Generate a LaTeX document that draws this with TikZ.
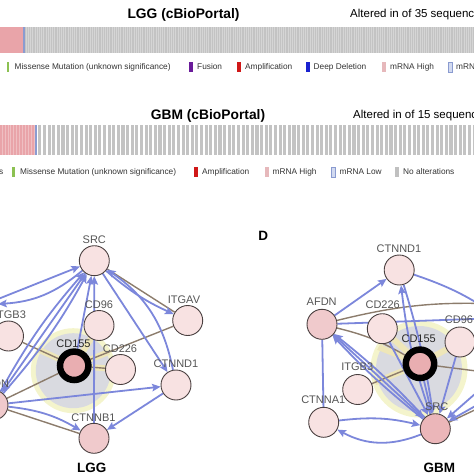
\documentclass[tikz,border=0pt]{standalone}
\usepackage{fontspec}
\setmainfont{Liberation Sans}
\usetikzlibrary{arrows.meta}
\pgfdeclarelayer{halo}
\pgfdeclarelayer{edges}
\pgfsetlayers{halo,edges,main}
\definecolor{barpink}{HTML}{E9A4A9}
\definecolor{barblue}{HTML}{8A9BD0}
\definecolor{bargray}{HTML}{C3C3C3}
\definecolor{cgreen}{HTML}{8CC152}
\definecolor{cpurple}{HTML}{6A1B9A}
\definecolor{cred}{HTML}{D01818}
\definecolor{cblue}{HTML}{1A22D0}
\definecolor{cpink}{HTML}{E6B8BB}
\definecolor{clow}{HTML}{D2DAF0}
\definecolor{cgrayleg}{HTML}{C0C0C0}
\definecolor{legtext}{HTML}{333333}
\definecolor{labgray}{HTML}{555555}
\definecolor{ndline}{HTML}{4A4040}
\definecolor{ndlight}{HTML}{F8E2E2}
\definecolor{ndmid}{HTML}{F0CACC}
\definecolor{nddark}{HTML}{EBB6B9}
\definecolor{cdfill}{HTML}{E9AEB1}
\definecolor{edgeblue}{HTML}{7C87DB}
\definecolor{edgebrown}{HTML}{8C7C6C}
\definecolor{haloc}{HTML}{D9DAE0}
\definecolor{glowc}{HTML}{F4F4CC}
\definecolor{glowline}{HTML}{EEE6B8}
\begin{document}
\begin{tikzpicture}[x=1pt,y=-1pt,
  title/.style={font=\bfseries\fontsize{13.8}{16}\selectfont, inner sep=0},
  altered/.style={font=\fontsize{11.5}{14}\selectfont, anchor=west, inner sep=0},
  leg/.style={font=\fontsize{8.3}{10}\selectfont, text=legtext, anchor=west, inner sep=0},
  mk/.style={rectangle, inner sep=0, minimum width=4pt, minimum height=10pt},
  nd/.style={circle, draw=ndline, line width=0.9pt, fill=ndlight, minimum size=30pt, inner sep=0},
  ndm/.style={nd, fill=ndmid},
  ndd/.style={nd, fill=nddark},
  hub/.style={circle, draw=black, line width=6.5pt, fill=cdfill, minimum size=28.4pt, inner sep=0},
  ghost/.style={circle, minimum size=30pt, inner sep=0},
  lbl/.style={font=\fontsize{11}{13}\selectfont, text=labgray, inner sep=0},
  hublbl/.style={font=\fontsize{11}{13}\selectfont, text=black!85, inner sep=0},
  panel/.style={font=\bfseries\fontsize{13.5}{16}\selectfont, inner sep=0},
  bl/.style={draw=edgeblue, line width=1.8pt, -{Stealth[length=8.5pt,width=7.5pt,inset=1.5pt]}},
  blp/.style={draw=edgeblue, line width=1.8pt},
  br/.style={draw=edgebrown, line width=1.4pt},
  glw/.style={draw=glowline, line width=6pt}
]
\useasboundingbox (0,0) rectangle (474,474);
\clip (0,0) rectangle (474,474);

% ---------- oncoprint A ----------
\node[title] (t1) at (183.5,15) {LGG (cBioPortal)};
\node[altered] (a1) at (350,15) {Altered in of 35 sequences};
\fill[bargray] (0,27) rectangle (474,53);
\foreach \i in {0,...,205} {\draw[white, opacity=0.3, line width=0.5pt] (26+\i*2.2,27) -- ++(0,26);}
\fill[barpink] (0,27) rectangle (23,53);
\fill[barblue] (23,27) rectangle (24.6,53);

\node[mk, fill=cgreen, minimum width=2.5pt] (m1) at (8,67) {};
\node[leg] (g1) at (14.5,67) {Missense Mutation (unknown significance)};
\node[mk, fill=cpurple] (m2) at (191,67) {};
\node[leg] (g2) at (197,67) {Fusion};
\node[mk, fill=cred] (m3) at (239,67) {};
\node[leg] (g3) at (245,67) {Amplification};
\node[mk, fill=cblue] (m4) at (308,67) {};
\node[leg] (g4) at (313.5,67) {Deep Deletion};
\node[mk, fill=cpink] (m5) at (383.5,67) {};
\node[leg] (g5) at (390,67) {mRNA High};
\node[mk, fill=clow, draw=barblue, line width=0.6pt] (m6) at (450,67) {};
\node[leg] (g6) at (456,67) {mRNA Low};

% ---------- oncoprint B ----------
\node[title] (t2) at (208,116) {GBM (cBioPortal)};
\node[altered] (a2) at (353,116) {Altered in of 15 sequences};
\fill[barpink] (0,125) rectangle (35,155);
\foreach \i in {0,...,11} {\draw[white, opacity=0.3, line width=0.5pt] (2+\i*2.9,125) -- ++(0,30);}
\fill[barblue] (35,125) rectangle (37,155);
\foreach \i in {0,...,94} {\fill[bargray] (38.3+\i*4.62,125) rectangle ++(3.1,30);}

\node[leg, anchor=east] (g0) at (3.5,172) {s};
\node[mk, fill=cgreen, minimum width=2.5pt] (n1) at (13.3,172) {};
\node[leg] (h1) at (20,172) {Missense Mutation (unknown significance)};
\node[mk, fill=cred] (n2) at (196,172) {};
\node[leg] (h2) at (202,172) {Amplification};
\node[mk, fill=cpink] (n3) at (266.5,172) {};
\node[leg] (h3) at (272.5,172) {mRNA High};
\node[mk, fill=clow, draw=barblue, line width=0.6pt] (n4) at (333.5,172) {};
\node[leg] (h4) at (339.5,172) {mRNA Low};
\node[mk, fill=cgrayleg] (n5) at (397,172) {};
\node[leg] (h5) at (403,172) {No alterations};

% ---------- network LGG ----------
\node[ghost] (lCA) at (-17,305) {};
\node[nd] (lSRC) at (94.3,260.7) {};
\node[lbl] (lSRCl) at (94.3,239.3) {SRC};
\node[nd] (lITGAV) at (187.7,320.5) {};
\node[lbl] (lITGAVl) at (184,300) {ITGAV};
\node[nd] (lCD96) at (99,325.5) {};
\node[lbl] (lCD96l) at (99,305) {CD96};
\node[nd] (lITGB3) at (8.5,336) {};
\node[lbl] (lITGB3l) at (10,314.5) {ITGB3};
\node[hub] (lCD155) at (74.2,365.8) {};
\node[hublbl] (lCD155l) at (73.5,343.3) {CD155};
\node[nd] (lCD226) at (120.5,369.5) {};
\node[lbl] (lCD226l) at (120,349) {CD226};
\node[nd] (lCTNND1) at (176,385) {};
\node[lbl] (lCTNND1l) at (176,364) {CTNND1};
\node[ndm] (lCTNNB1) at (94,438.3) {};
\node[lbl] (lCTNNB1l) at (93.5,417.3) {CTNNB1};
\node[ndm] (lAFDN) at (-7,405) {};
\node[lbl] (lAFDNl) at (-6,383.5) {AFDN};
\node[panel] (lLGG) at (91.7,468.3) {LGG};

\begin{pgfonlayer}{halo}
\fill[glowc] (73.3,370.7) circle (42.5);
\fill[haloc] (73.3,370.7) circle (37.5);
\begin{scope}
\clip (73.3,370.7) circle (40);
\draw[glw] (lCD155) -- (lITGB3);
\draw[glw] (lCD155) -- (lCD96);
\draw[glw] (lCD155) -- (lCD226);
\draw[glw] (lCD155) -- (lITGAV);
\end{scope}
\end{pgfonlayer}

\begin{pgfonlayer}{edges}
\draw[br] (lITGB3) -- (lCD155);
\draw[br] (lITGAV) -- (lCD155);
\draw[br] (lSRC) -- (lITGAV);
\draw[br] (lCD155) -- (lCD226);
\draw[br] (lCD155) -- (lAFDN);
\draw[br] (lAFDN) -- (lCTNNB1);
\draw[bl] (lCA) -- (lSRC);
\draw[bl] (lSRC) to[bend left=18] (lCA);
\draw[bl] (lSRC) to[bend right=8] (lITGAV);
\draw[bl] (lCTNND1) to[bend right=22] (lSRC);
\draw[bl] (lSRC) -- (lCTNND1);
\draw[bl] (lAFDN) to[bend left=6] (lSRC);
\draw[bl] (lAFDN) to[bend right=6] (lSRC);
\draw[bl] (lSRC) -- (lAFDN);
\draw[bl] (lCD155) -- (lSRC);
\draw[bl] (lCTNNB1) -- (lSRC);
\draw[bl] (lAFDN) -- (lCTNND1);
\draw[bl] (lAFDN) to[bend left=12] (lCTNNB1);
\draw[bl] (lCTNND1) -- (lCTNNB1);
\end{pgfonlayer}

% ---------- network GBM ----------
\node[panel] (gD) at (263.3,236) {D};
\coordinate (gR1) at (500,318);
\coordinate (gR1b) at (500,304);
\coordinate (gR2) at (500,374);
\coordinate (gR3) at (500,398);
\coordinate (gR4) at (500,372);
\coordinate (gR5) at (500,392);
\node[nd] (gCTNND1) at (399.2,270) {};
\node[lbl] (gCTNND1l) at (399,248.3) {CTNND1};
\node[ndm] (gAFDN) at (322,324.3) {};
\node[lbl] (gAFDNl) at (321.7,301.7) {AFDN};
\node[nd] (gCD226) at (382.3,328.7) {};
\node[lbl] (gCD226l) at (382.7,304.3) {CD226};
\node[nd] (gCD96) at (460,342) {};
\node[lbl] (gCD96l) at (459,319.3) {CD96};
\node[hub] (gCD155) at (420,363.8) {};
\node[hublbl] (gCD155l) at (418.7,339) {CD155};
\node[nd] (gITGB3) at (357.7,389.5) {};
\node[lbl] (gITGB3l) at (357.3,366.7) {ITGB3};
\node[nd] (gCTNNA1) at (323.7,422.3) {};
\node[lbl] (gCTNNA1l) at (323.3,400) {CTNNA1};
\node[ndd] (gSRC) at (435.3,428.7) {};
\node[lbl] (gSRCl) at (436.7,406.7) {SRC};
\node[panel] (gGBM) at (439.3,468.3) {GBM};

\begin{pgfonlayer}{halo}
\fill[glowc] (419,369) circle (48.5);
\fill[haloc] (419,369) circle (43);
\begin{scope}
\clip (419,369) circle (46);
\draw[glw] (gCD155) -- (gCD96);
\draw[glw] (gCD155) -- (gCD226);
\draw[glw] (gCD155) -- (gAFDN);
\draw[glw] (gCD155) -- (gITGB3);
\end{scope}
\end{pgfonlayer}

\begin{pgfonlayer}{edges}
\draw[br] (gITGB3) -- (gCD155);
\draw[br] (gCD155) -- (gR2);
\draw[br] (gSRC) -- (gR3);
\draw[br] (gAFDN) to[bend left=8] (gCD155);
\draw[br] (gAFDN) to[bend left=8] (gR1b);
\draw[bl] (gAFDN) -- (gCTNND1);
\draw[bl] (gSRC) to[bend left=6] (gCTNND1);
\draw[bl] (gCTNND1) to[bend left=4] (gSRC);
\draw[blp] (gCTNND1) to[bend left=8] (gR1);
\draw[blp] (gAFDN) -- (gR1);
\draw[bl] (gSRC) to[bend left=4] (gAFDN);
\draw[bl] (gSRC) to[bend right=4] (gAFDN);
\draw[bl] (gAFDN) -- (gSRC);
\draw[bl] (gCD226) -- (gSRC);
\draw[bl] (gCD155) -- (gSRC);
\draw[bl] (gCD96) -- (gSRC);
\draw[blp] (gAFDN) -- (gCTNNA1);
\draw[bl] (gCTNNA1) to[bend left=10] (gSRC);
\draw[bl] (gSRC) to[bend left=25] (gCTNNA1);
\draw[bl] (gR4) -- (gSRC);
\draw[bl] (gR5) -- (gSRC);
\end{pgfonlayer}
\end{tikzpicture}
\end{document}
